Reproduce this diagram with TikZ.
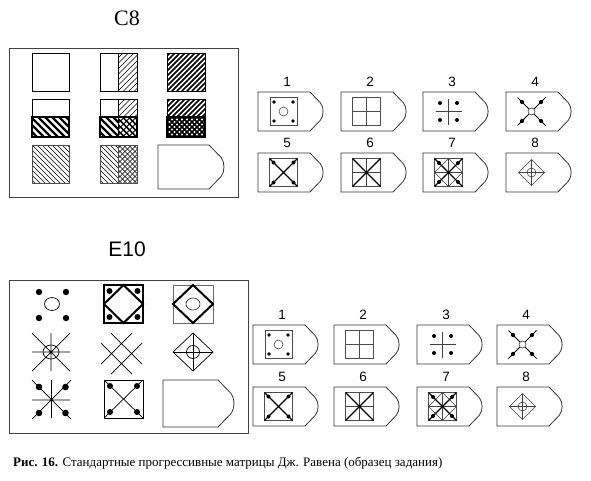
\documentclass[tikz,border=0pt]{standalone}
\usepackage{fontspec}
\setmainfont{Liberation Serif}
\newfontfamily\arial{Liberation Sans}
\newcommand\hne[6]{%
 \begin{scope}\clip (#1,#2) rectangle (#3,#4);
 \pgfmathsetmacro\myhs{-50+#5}
 \foreach \t in {-50,\myhs,...,50}{\draw[line width=#6] ({#1+\t},#4) -- ++(60,-60);}
 \end{scope}}
\newcommand\hnw[6]{%
 \begin{scope}\clip (#1,#2) rectangle (#3,#4);
 \pgfmathsetmacro\myhs{-50+#5}
 \foreach \t in {-50,\myhs,...,50}{\draw[line width=#6] ({#1+\t},#2) -- ++(60,60);}
 \end{scope}}
\newcommand\tagshape[5]{%
 \draw[tagline] (#1,#2) -- (#5,#2) -- ({#5+0.75*(#3-#5)},{#2+0.28*(#4-#2)})
  .. controls ({#3},{#2+0.4*(#4-#2)}) and ({#3},{#2+0.6*(#4-#2)}) ..
  ({#5+0.75*(#3-#5)},{#2+0.72*(#4-#2)}) -- (#5,#4) -- (#1,#4) -- cycle;}
\newcommand\fourdots[2]{\foreach \sx in {-1,1}{\foreach \sy in {-1,1}{\fill ({\sx*#1},{\sy*#1}) circle (#2);}}}
\newcommand\ansfig[1]{%
 \ifcase#1\or
  \draw[asq] (-13.5,-14) rectangle (13.5,14);
  \fourdots{9.5}{1.9pt}
  \draw[athin] (0,0) circle (4.5pt);
 \or
  \draw[asq] (-14,-14) rectangle (14,14);
  \draw[asq] (0,-14) -- (0,14) (-14,0) -- (14,0);
 \or
  \draw[athin] (0,-13) -- (0,13) (-13,0) -- (13,0);
  \fourdots{8.5}{2pt}
 \or
  \draw[line width=1pt] (-14,-14) -- (14,14) (14,-14) -- (-14,14);
  \fourdots{9.5}{2.1pt}
  \draw[athin,fill=white] (0,0) circle (3.5pt);
 \or
  \draw[asq] (-14,-14) rectangle (14,14);
  \draw[line width=1.1pt] (-14,-14) -- (14,14) (14,-14) -- (-14,14);
  \fourdots{10}{2pt}
 \or
  \draw[asq] (-14,-14) rectangle (14,14);
  \draw[athin] (0,-14) -- (0,14) (-14,0) -- (14,0);
  \draw[line width=1.3pt] (-14,-14) -- (14,14) (14,-14) -- (-14,14);
 \or
  \draw[asq] (-14,-14) rectangle (14,14);
  \draw[athin] (0,-14) -- (0,14) (-14,0) -- (14,0) (0,-14) -- (14,0) -- (0,14) -- (-14,0) -- cycle;
  \draw[line width=1.2pt] (-14,-14) -- (14,14) (14,-14) -- (-14,14);
  \fourdots{9.5}{2pt}
 \or
  \draw[athin] (0,-13) -- (13,0) -- (0,13) -- (-13,0) -- cycle;
  \draw[athin] (0,-13) -- (0,13) (-13,0) -- (13,0);
  \draw[athin] (0,0) circle (4.5pt);
 \fi}
\newcommand\ans[4]{% prefix, left, top, number
 \pgfmathsetmacro\ansR{#2+66}\pgfmathsetmacro\ansB{#3+39}\pgfmathsetmacro\ansM{#2+52}
 \tagshape{#2}{#3}{\ansR}{\ansB}{\ansM}
 \node[lab] (#1lab#4) at ({#2+29},{#3-10}) {#4};
 \begin{scope}[shift={({#2+25.5},{#3+19.5})}]\ansfig{#4}\end{scope}}
\begin{document}
\begin{tikzpicture}[x=1pt,y=-1pt,
 frame/.style={line width=0.9pt,black!75},
 cellb/.style={line width=1pt},
 cellg/.style={line width=0.8pt,black!70},
 tagline/.style={line width=0.8pt,black!80},
 asq/.style={line width=0.7pt,black!70},
 athin/.style={line width=0.6pt,black!75},
 ethin/.style={line width=0.7pt},
 lab/.style={font=\arial\fontsize{13.5}{13.5}\selectfont,inner sep=0pt}]
\useasboundingbox (0,0) rectangle (591,480);
\fill[white] (0,0) rectangle (591,480);
% titles
\node[anchor=base,inner sep=0pt,font=\fontsize{22}{22}\selectfont] (c8title) at (127,25) {C8};
\node[anchor=base,inner sep=0pt,font=\arial\fontsize{21}{21}\selectfont] (e10title) at (127,256.5) {E10};
% frames
\draw[frame] (9,48) rectangle (238,197);
\draw[frame] (9,280) rectangle (248,433);
% ---------- C8 matrix ----------
\draw[cellb] (32,53) rectangle (69,91);
\hne{118.5}{53}{137}{91}{5.5}{0.6pt}
\draw[cellb] (100,53) rectangle (137,91); \draw[cellb] (118.5,53) -- (118.5,91);
\hne{167}{53}{205}{91}{5}{1.6pt}
\draw[cellb] (167,53) rectangle (205,91);
\draw[cellb] (32,99) rectangle (69,117);
\hnw{32}{117}{69}{137}{7}{2.2pt}
\draw[line width=1.8pt] (32,117) rectangle (69,137);
\draw[cellb] (100,99) rectangle (137,117);
\hne{118.5}{99}{137}{117}{5.5}{0.6pt}
\draw[cellb] (118.5,99) -- (118.5,117);
\hnw{100}{117}{118.5}{137}{7}{2.2pt}
\hnw{118.5}{117}{137}{137}{6}{1.6pt}\hne{118.5}{117}{137}{137}{6}{0.9pt}
\draw[line width=1.8pt] (100,117) rectangle (137,137); \draw[line width=1.2pt] (118.5,117) -- (118.5,137);
\hne{167}{99}{205}{117}{5}{1.6pt}
\draw[cellb] (167,99) rectangle (205,117);
\hnw{167}{117}{205}{137}{5}{1.6pt}\hne{167}{117}{205}{137}{5}{1.6pt}
\draw[line width=1.8pt] (167,117) rectangle (205,137);
\hnw{32}{145}{69}{183}{5}{0.6pt}
\draw[cellg] (32,145) rectangle (69,183);
\hnw{100}{145}{118.5}{183}{5}{0.6pt}
\hnw{118.5}{145}{137}{183}{5}{0.5pt}\hne{118.5}{145}{137}{183}{5}{0.5pt}
\draw[cellg] (100,145) rectangle (137,183); \draw[cellg] (118.5,145) -- (118.5,183);
\tagshape{158}{145}{225}{189}{209}
% ---------- E10 matrix ----------
% r1c1
\foreach \a/\b in {39/292,66/292,39/318,66/318}{\fill (\a,\b) circle (3.2pt);}
\draw[ethin] (52,304) ellipse (7.5pt and 6.5pt);
% r1c2
\draw[line width=1.1pt] (104,285) rectangle (143,323);
\draw[line width=2pt] (123.5,285) -- (143,304) -- (123.5,323) -- (104,304) -- cycle;
\foreach \a/\b in {109.5/291,137.5/291,109.5/317,137.5/317}{\fill (\a,\b) circle (3pt);}
% r1c3
\draw[line width=0.8pt,black!60] (173,285) rectangle (213,323);
\draw[line width=2pt] (193,285) -- (213,304) -- (193,323) -- (173,304) -- cycle;
\draw[ethin,black!75] (193,304) ellipse (7pt and 6pt);
% r2c1
\draw[ethin] (32,352) -- (70,352) (51,333) -- (51,371) (32,371) -- (70,333) (32,333) -- (70,371);
\draw[ethin] (51,352) ellipse (8pt and 7pt);
% r2c2
\draw[ethin] (111,333) -- (142,364) (101,343) -- (132,374) (132,333) -- (101,364) (142,343) -- (111,374);
% r2c3
\draw[ethin] (173,352) -- (193,333) -- (213,352) -- (193,371) -- cycle;
\draw[ethin] (173,352) -- (213,352) (193,333) -- (193,371);
\draw[ethin] (193,352) circle (6.5pt);
% r3c1
\draw[ethin] (32,400) -- (70,400) (51.5,380) -- (51.5,418) (32,419) -- (71,380) (32,380) -- (71,419);
\foreach \a/\b in {39/387,65.5/387,39/413,65.5/413}{\fill (\a,\b) circle (3.3pt);}
% r3c2
\draw[line width=1pt] (104,380) rectangle (143,418);
\draw[ethin] (104,380) -- (143,418) (143,380) -- (104,418);
\foreach \a/\b in {110/386,137/386,110/412,137/412}{\fill (\a,\b) circle (3pt);}
\tagshape{163}{380}{235}{427}{218}
% ---------- answers ----------
\ans{c}{258}{92}{1}\ans{c}{341}{92}{2}\ans{c}{423}{92}{3}\ans{c}{506}{92}{4}
\ans{c}{258}{153}{5}\ans{c}{341}{153}{6}\ans{c}{423}{153}{7}\ans{c}{506}{153}{8}
\ans{e}{253}{325}{1}\ans{e}{334}{325}{2}\ans{e}{417}{325}{3}\ans{e}{497}{325}{4}
\ans{e}{253}{387}{5}\ans{e}{334}{387}{6}\ans{e}{417}{387}{7}\ans{e}{497}{387}{8}
% caption
\node[anchor=base west,inner sep=0pt,font=\fontsize{13}{13}\selectfont] (cap) at (13,466)
 {\textbf{Рис. 16.} Стандартные прогрессивные матрицы Дж. Равена (образец задания)};
\end{tikzpicture}
\end{document}
